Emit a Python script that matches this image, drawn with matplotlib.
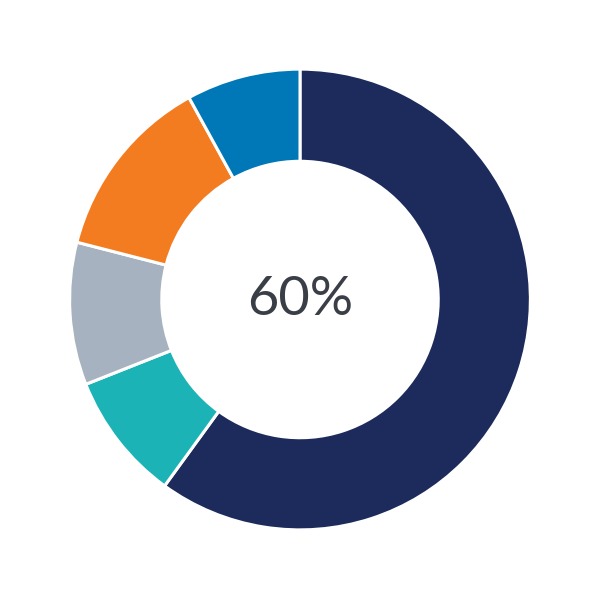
import matplotlib.pyplot as plt

# slice shares, clockwise from 12 o'clock
shares = [60, 9, 10, 13, 8]
colors = ["#1c2b5b", "#1bb3b5", "#a7b2c0", "#f37c21", "#0077b6"]
center_label = "60%"

fig = plt.figure(figsize=(6.0, 5.99), dpi=100)
ax = fig.add_axes([0, 0, 1, 1])

ax.pie(shares, colors=colors, startangle=90, counterclock=False,
       radius=1.0,
       wedgeprops=dict(width=0.40, edgecolor="white", linewidth=2.2))

ax.text(0, 0, center_label, ha="center", va="center",
        fontsize=39, family="Lato", color="#3a3e47")

ax.set_xlim(-1.3, 1.3)
ax.set_ylim(-1.3, 1.3)
ax.set_aspect("equal")
ax.axis("off")

fig.savefig("out.png", dpi=100)
